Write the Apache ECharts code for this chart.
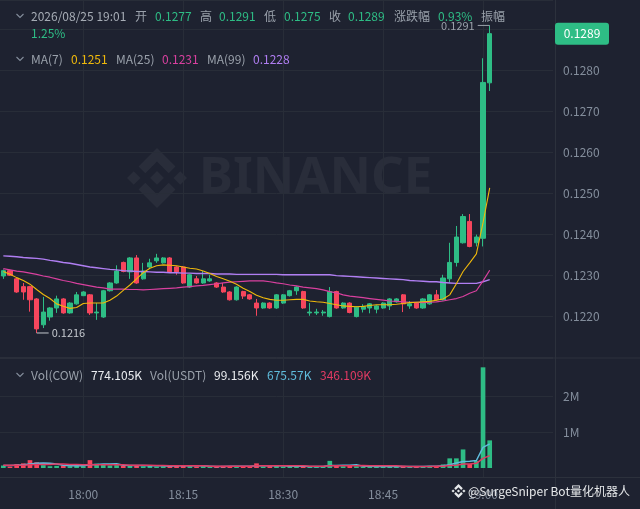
<!DOCTYPE html>
<html><head><meta charset="utf-8">
<script src="https://cdn.jsdelivr.net/npm/echarts@6/dist/echarts.min.js"></script>
<style>html,body{margin:0;padding:0;background:#1e2230;}#c{width:640px;height:509px;}</style>
</head><body><div id="c"></div>
<script>
const times = ["17:48","17:49","17:50","17:51","17:52","17:53","17:54","17:55","17:56","17:57","17:58","17:59",
"18:00","18:01","18:02","18:03","18:04","18:05","18:06","18:07","18:08","18:09","18:10","18:11","18:12","18:13","18:14",
"18:15","18:16","18:17","18:18","18:19","18:20","18:21","18:22","18:23","18:24","18:25","18:26","18:27","18:28","18:29",
"18:30","18:31","18:32","18:33","18:34","18:35","18:36","18:37","18:38","18:39","18:40","18:41","18:42","18:43","18:44",
"18:45","18:46","18:47","18:48","18:49","18:50","18:51","18:52","18:53","18:54","18:55","18:56","18:57","18:58","18:59",
"19:00","19:01","19:02","19:03","19:04","19:05","19:06","19:07","19:08","19:09","19:10"];
const timeTicks = ["18:00","18:15","18:30","18:45","19:00"];

const opens = [0.12299,0.12312,0.12292,0.12273,0.12273,0.12243,0.12180,0.12199,0.12221,0.12243,
0.12209,0.12231,0.12251,0.12253,0.12209,0.12199,0.12263,0.12282,0.12332,0.12309,
0.12343,0.12292,0.12321,0.12336,0.12331,0.12343,0.12321,0.12321,0.12272,0.12292,
0.12282,0.12287,0.12282,0.12272,0.12260,0.12241,0.12261,0.12253,0.12233,0.12221,
0.12233,0.12221,0.12233,0.12251,0.12263,0.12261,0.12209,0.12209,0.12209,0.12200,
0.12261,0.12221,0.12233,0.12200,0.12218,0.12221,0.12218,0.12221,0.12226,0.12236,
0.12253,0.12226,0.12233,0.12221,0.12231,0.12253,0.12241,0.12292,0.12332,0.12380,
0.12432,0.12380,0.12391,0.12770];
const closes = [0.12312,0.12301,0.12260,0.12260,0.12241,0.12170,0.12211,0.12221,0.12243,0.12209,
0.12233,0.12253,0.12260,0.12209,0.12211,0.12263,0.12282,0.12311,0.12310,0.12343,
0.12282,0.12311,0.12331,0.12343,0.12343,0.12309,0.12309,0.12282,0.12302,0.12282,
0.12292,0.12292,0.12272,0.12260,0.12241,0.12272,0.12250,0.12243,0.12221,0.12233,
0.12221,0.12253,0.12253,0.12263,0.12272,0.12221,0.12211,0.12211,0.12211,0.12261,
0.12221,0.12233,0.12210,0.12223,0.12224,0.12231,0.12226,0.12233,0.12243,0.12243,
0.12231,0.12231,0.12221,0.12243,0.12253,0.12241,0.12294,0.12332,0.12394,0.12444,
0.12371,0.12394,0.12771,0.12890];
const lows = [0.12292,0.12299,0.12258,0.12241,0.12212,0.12160,0.12172,0.12190,0.12209,0.12207,
0.12207,0.12229,0.12250,0.12204,0.12192,0.12197,0.12261,0.12280,0.12308,0.12292,
0.12280,0.12290,0.12319,0.12331,0.12329,0.12307,0.12302,0.12280,0.12270,0.12280,
0.12280,0.12285,0.12270,0.12258,0.12239,0.12239,0.12243,0.12241,0.12202,0.12219,
0.12219,0.12219,0.12231,0.12249,0.12253,0.12219,0.12202,0.12204,0.12202,0.12198,
0.12219,0.12219,0.12208,0.12198,0.12210,0.12208,0.12208,0.12219,0.12216,0.12234,
0.12211,0.12219,0.12219,0.12219,0.12229,0.12239,0.12239,0.12283,0.12322,0.12378,
0.12369,0.12371,0.12371,0.12750];
const highs = [0.12315,0.12314,0.12294,0.12282,0.12275,0.12245,0.12248,0.12223,0.12251,0.12245,
0.12235,0.12260,0.12262,0.12255,0.12233,0.12265,0.12284,0.12325,0.12334,0.12345,
0.12350,0.12331,0.12341,0.12353,0.12345,0.12345,0.12323,0.12323,0.12304,0.12299,
0.12311,0.12302,0.12284,0.12282,0.12262,0.12274,0.12263,0.12255,0.12243,0.12235,
0.12235,0.12255,0.12255,0.12265,0.12274,0.12263,0.12233,0.12219,0.12216,0.12272,
0.12263,0.12235,0.12235,0.12225,0.12230,0.12233,0.12228,0.12235,0.12245,0.12245,
0.12255,0.12238,0.12235,0.12245,0.12255,0.12265,0.12302,0.12380,0.12421,0.12450,
0.12450,0.12400,0.12830,0.12910];

const ma7 = [0.12310,0.12303,0.12295,0.12288,0.12279,0.12266,0.12254,0.12244,0.12231,0.12225,
0.12220,0.12222,0.12232,0.12233,0.12233,0.12233,0.12240,0.12250,0.12264,0.12277,
0.12292,0.12307,0.12318,0.12324,0.12326,0.12325,0.12324,0.12321,0.12318,0.12316,
0.12311,0.12305,0.12298,0.12292,0.12286,0.12279,0.12269,0.12261,0.12252,0.12246,
0.12242,0.12240,0.12240,0.12241,0.12242,0.12242,0.12238,0.12236,0.12235,0.12232,
0.12229,0.12226,0.12225,0.12224,0.12225,0.12227,0.12229,0.12229,0.12229,0.12230,
0.12232,0.12234,0.12235,0.12236,0.12237,0.12240,0.12243,0.12253,0.12280,0.12310,
0.12331,0.12353,0.12429,0.12514];
const ma25 = [0.12317,0.12314,0.12311,0.12309,0.12306,0.12303,0.12299,0.12296,0.12292,0.12288,
0.12285,0.12281,0.12278,0.12275,0.12272,0.12270,0.12267,0.12267,0.12267,0.12266,
0.12266,0.12265,0.12266,0.12267,0.12268,0.12269,0.12270,0.12272,0.12273,0.12275,
0.12276,0.12278,0.12280,0.12282,0.12284,0.12285,0.12286,0.12287,0.12287,0.12287,
0.12285,0.12282,0.12280,0.12277,0.12275,0.12272,0.12270,0.12268,0.12265,0.12261,
0.12258,0.12253,0.12250,0.12248,0.12246,0.12244,0.12242,0.12240,0.12238,0.12237,
0.12236,0.12235,0.12235,0.12234,0.12235,0.12236,0.12238,0.12241,0.12244,0.12249,
0.12257,0.12263,0.12287,0.12313];
const ma99 = [0.12348,0.12347,0.12346,0.12344,0.12343,0.12342,0.12340,0.12337,0.12335,0.12332,
0.12330,0.12327,0.12324,0.12321,0.12319,0.12317,0.12315,0.12314,0.12312,0.12311,
0.12310,0.12310,0.12309,0.12308,0.12308,0.12307,0.12307,0.12306,0.12306,0.12305,
0.12305,0.12305,0.12304,0.12304,0.12304,0.12303,0.12303,0.12303,0.12303,0.12303,
0.12303,0.12303,0.12302,0.12302,0.12302,0.12302,0.12302,0.12302,0.12302,0.12302,
0.12300,0.12299,0.12298,0.12297,0.12296,0.12295,0.12294,0.12293,0.12292,0.12291,
0.12290,0.12288,0.12287,0.12286,0.12285,0.12285,0.12283,0.12282,0.12281,0.12281,
0.12281,0.12281,0.12285,0.12290];

const volumes = [70000,40000,110000,130000,220000,160000,80000,50000,60000,70000,
50000,60000,50000,220000,120000,90000,70000,80000,60000,70000,
80000,50000,60000,40000,50000,70000,60000,80000,50000,40000,
50000,30000,40000,60000,50000,40000,50000,40000,130000,40000,
50000,60000,40000,50000,40000,60000,30000,30000,30000,200000,
80000,50000,60000,50000,30000,40000,30000,40000,50000,30000,
60000,30000,40000,50000,60000,50000,100000,270000,270000,520000,
110000,200000,2820000,774105];
const volMa5 = [70000,70000,80000,90000,110000,130000,140000,130000,110000,80000,
60000,60000,60000,90000,100000,110000,110000,120000,80000,70000,
70000,70000,60000,60000,60000,50000,60000,60000,60000,60000,
60000,50000,40000,40000,50000,50000,50000,50000,60000,60000,
60000,60000,60000,50000,50000,50000,40000,40000,40000,70000,
70000,80000,80000,90000,50000,50000,40000,40000,40000,40000,
40000,40000,40000,40000,50000,50000,60000,90000,140000,180000,
190000,210000,580000,675570];
const volMa10 = [80000,80000,80000,80000,90000,100000,100000,100000,110000,110000,
100000,100000,90000,90000,90000,90000,90000,90000,90000,80000,
80000,80000,80000,70000,70000,60000,60000,60000,60000,60000,
60000,50000,50000,50000,50000,50000,50000,50000,60000,60000,
60000,60000,60000,60000,60000,60000,50000,50000,50000,60000,
60000,60000,60000,60000,70000,60000,60000,60000,60000,60000,
50000,40000,40000,40000,40000,50000,50000,70000,80000,110000,
110000,130000,270000,346109];

const headerTexts = ["2026/08/25 19:01","开","0.1277","高","0.1291","低","0.1275","收","0.1289","涨跌幅","0.93%","振幅","1.25%"];
const maTexts = ["MA(7)","0.1251","MA(25)","0.1231","MA(99)","0.1228"];
const volTexts = ["Vol(COW)","774.105K","Vol(USDT)","99.156K","675.57K","346.109K"];

const UP='#2ebd85', DOWN='#f6465d', GRAY='#848e9c', LBL='#9aa1ab', GRID='#282d38', SEP='#2c313c';
const C7='#f0b90b', C25='#d9409f', C99='#b07ef2', CV5='#5fbcdc', CV10='#e23a63';
const FONT="'Noto Sans CJK SC','Noto Sans',sans-serif";
const LOGO_PARTS = [
 [[38.73,53.2],[63.32,28.62],[87.92,53.22],[102.22,38.91],[63.32,0],[24.43,38.9]],
 [[0,63.31],[14.3,49],[28.61,63.31],[14.3,77.61]],
 [[38.73,73.41],[63.32,98],[87.92,73.4],[102.23,87.69],[63.32,126.6],[24.41,87.72]],
 [[98,63.31],[112.3,49],[126.61,63.3],[112.3,77.62]],
 [[77.83,63.3],[63.32,48.78],[48.81,63.28],[63.32,77.78]]
];
function logo(x,y,size,fill,z){
  const k=size/126.6;
  return LOGO_PARTS.map(p=>({type:'polygon',z:z,shape:{points:p.map(q=>[x+q[0]*k,y+q[1]*k])},style:{fill:fill}}));
}

const candleData = opens.map((o,i)=>[o, closes[i], lows[i], highs[i]]);
const volData = volumes.map((v,i)=>({value:v, itemStyle:{color: closes[i]>=opens[i]?UP:DOWN}}));
const last = opens.length-1;
let lowIdx = 0; lows.forEach((l,i)=>{ if(l<lows[lowIdx]) lowIdx=i; });
let highIdx = 0; highs.forEach((h,i)=>{ if(h>highs[highIdx]) highIdx=i; });

const vLines = timeTicks.map(t=>({xAxis:t}));

function txt(s,x,y,color,size){return {type:'text',x:x,y:y,z:50,style:{text:s,fill:color,font:(size||12)+'px '+FONT,verticalAlign:'middle',align:'left'}};}
function chev(y){return {type:'polyline',z:50,shape:{points:[[16.5,y-2],[20,y+1.5],[23.5,y-2]]},style:{stroke:GRAY,lineWidth:1.1,fill:null}};}

const g = [];
g.push(...logo(127,148,60,'rgba(255,255,255,0.05)',0));
g.push({type:'text',z:0,x:199,y:178,style:{text:'BINANCE',fill:'rgba(255,255,255,0.05)',font:'bold 51px "Noto Sans", sans-serif',verticalAlign:'middle'}});
g.push({type:'line',z:40,shape:{x1:0,y1:358,x2:640,y2:358},style:{stroke:SEP,lineWidth:1}});
g.push({type:'line',z:40,shape:{x1:0,y1:477.5,x2:640,y2:477.5},style:{stroke:SEP,lineWidth:1}});
g.push({type:'line',z:40,shape:{x1:555.5,y1:0,x2:555.5,y2:509},style:{stroke:SEP,lineWidth:1}});
g.push(chev(16));
const hx=[31,135,155,200,219,264,284,329,348,394,438,481];
const hc=['#a7adb6',LBL,UP,LBL,UP,LBL,UP,LBL,UP,LBL,UP,LBL];
for(let i=0;i<12;i++) g.push(txt(headerTexts[i],hx[i],16,hc[i]));
g.push(txt(headerTexts[12],31,33,UP));
g.push(chev(59));
const mx=[31,71,116,162,207,253], mc=[LBL,C7,LBL,C25,LBL,C99];
for(let i=0;i<6;i++) g.push(txt(maTexts[i],mx[i],59,mc[i]));
g.push(chev(375));
const vx=[31,91,150,214,267,320], vc=[LBL,'#eaecef',LBL,'#eaecef',CV5,CV10];
for(let i=0;i<6;i++) g.push(txt(volTexts[i],vx[i],375,vc[i]));
g.push(...logo(451.5,484,14,'#e6e8ea',60));
g.push(txt('@SurgeSniper Bot量化机器人',468,491,'#e6e8ea'));

const gl=-0.3, gr=87;
const option = {
  animation:false,
  backgroundColor:'#1e2230',
  textStyle:{fontFamily:FONT},
  grid:[{left:gl,right:gr,top:0,height:358},{left:gl,right:gr,top:358,height:119}],
  xAxis:[
    {type:'category',gridIndex:0,data:times,boundaryGap:true,axisLine:{show:false},axisTick:{show:false},axisLabel:{show:false},splitLine:{show:false}},
    {type:'category',gridIndex:1,data:times,boundaryGap:true,axisLine:{show:false},axisTick:{show:false},splitLine:{show:false},
     axisLabel:{color:GRAY,fontSize:12,margin:11,fontFamily:FONT,interval:(i,v)=>timeTicks.includes(v)}}
  ],
  yAxis:[
    {type:'value',gridIndex:0,position:'right',min:0.12099,max:0.12972,splitNumber:8,scale:true,
     axisLine:{show:false},axisTick:{show:false},
     axisLabel:{color:GRAY,fontSize:12,margin:10,fontFamily:FONT,showMinLabel:false,showMaxLabel:false,
       formatter:v=>(v>0.12195&&v<0.12805)?v.toFixed(4):''},
     splitLine:{lineStyle:{color:GRID,width:1}}},
    {type:'value',gridIndex:1,position:'right',min:-252000,max:3081000,splitNumber:3,
     axisLine:{show:false},axisTick:{show:false},
     axisLabel:{color:GRAY,fontSize:12,margin:10,fontFamily:FONT,showMinLabel:false,showMaxLabel:false,
       formatter:v=>Math.abs(v-1e6)<1?'1M':(Math.abs(v-2e6)<1?'2M':'')},
     splitLine:{show:false}}
  ],
  series:[
    {type:'candlestick',name:'K',xAxisIndex:0,yAxisIndex:0,data:candleData,barWidth:'70%',z:5,
     itemStyle:{color:UP,color0:DOWN,borderColor:UP,borderColor0:DOWN,borderWidth:1},
     markLine:{silent:true,symbol:'none',z:1,label:{show:false},lineStyle:{color:GRID,width:1,type:'solid'},data:vLines},
     markPoint:{silent:true,z:6,data:[
       {coord:[times[highIdx],highs[highIdx]],symbol:'rect',symbolSize:[12,1],symbolOffset:[-6,0],itemStyle:{color:'#9aa1ab'},
        label:{show:true,position:'left',distance:3,formatter:highs[highIdx].toFixed(4),color:'#9aa1ab',fontSize:11,fontFamily:FONT}},
       {coord:[times[lowIdx],lows[lowIdx]],symbol:'rect',symbolSize:[12,1],symbolOffset:[6,0],itemStyle:{color:'#c4c8ce'},
        label:{show:true,position:'right',distance:3,formatter:lows[lowIdx].toFixed(4),color:'#c4c8ce',fontSize:11,fontFamily:FONT}}
     ]}},
    {type:'line',name:'MA99',xAxisIndex:0,yAxisIndex:0,data:ma99,symbol:'none',z:6,lineStyle:{color:C99,width:1.4},silent:true},
    {type:'line',name:'MA25',xAxisIndex:0,yAxisIndex:0,data:ma25,symbol:'none',z:6,lineStyle:{color:C25,width:1.2},silent:true},
    {type:'line',name:'MA7',xAxisIndex:0,yAxisIndex:0,data:ma7,symbol:'none',z:6,lineStyle:{color:C7,width:1.1},silent:true},
    {type:'bar',name:'Vol',xAxisIndex:1,yAxisIndex:1,data:volData,barWidth:'70%',z:5,silent:true,
     markLine:{silent:true,symbol:'none',z:1,label:{show:false},lineStyle:{color:GRID,width:1,type:'solid'},
       data:[...vLines,{yAxis:1000000},{yAxis:2000000}]}},
    {type:'line',name:'VolMA5',xAxisIndex:1,yAxisIndex:1,data:volMa5,symbol:'none',z:6,lineStyle:{color:CV5,width:1.5},silent:true},
    {type:'line',name:'VolMA10',xAxisIndex:1,yAxisIndex:1,data:volMa10,symbol:'none',z:7,lineStyle:{color:CV10,width:1.5},silent:true}
  ],
  graphic:g
};
const chart = echarts.init(document.getElementById('c'));
chart.setOption(option);
// current price tag, positioned through the price axis scale
const tagY = chart.convertToPixel({yAxisIndex:0}, closes[last]);
g.push({type:'rect',z:70,shape:{x:555,y:tagY-11,width:54,height:22,r:3},style:{fill:UP}});
g.push({type:'text',z:71,x:582,y:tagY,style:{text:closes[last].toFixed(4),fill:'#ffffff',font:'12px '+FONT,align:'center',verticalAlign:'middle'}});
chart.setOption({graphic:g});
</script></body></html>
